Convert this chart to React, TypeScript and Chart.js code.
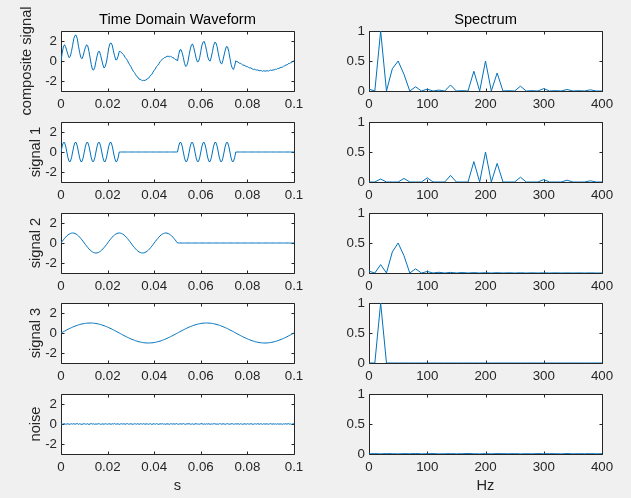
import React, { useEffect, useRef } from 'react';
import { Chart, registerables } from 'chart.js';

Chart.register(...registerables);

// ---------- sampled waveforms (2 kHz, 0 .. 0.1 s) ----------
const SAMPLE_RATE = 2000;

// 200 Hz bursts during 0-0.025 s and 0.05-0.075 s
const SIGNAL_1 = [
  0, .59, .95, .95, .59, 0, -.59, -.95, -.95, -.59,
  0, .59, .95, .95, .59, 0, -.59, -.95, -.95, -.59,
  0, .59, .95, .95, .59, 0, -.59, -.95, -.95, -.59,
  0, .59, .95, .95, .59, 0, -.59, -.95, -.95, -.59,
  0, .59, .95, .95, .59, 0, -.59, -.95, -.95, -.59,
  0, 0, 0, 0, 0, 0, 0, 0, 0, 0,
  0, 0, 0, 0, 0, 0, 0, 0, 0, 0,
  0, 0, 0, 0, 0, 0, 0, 0, 0, 0,
  0, 0, 0, 0, 0, 0, 0, 0, 0, 0,
  0, 0, 0, 0, 0, 0, 0, 0, 0, 0,
  0, .59, .95, .95, .59, 0, -.59, -.95, -.95, -.59,
  0, .59, .95, .95, .59, 0, -.59, -.95, -.95, -.59,
  0, .59, .95, .95, .59, 0, -.59, -.95, -.95, -.59,
  0, .59, .95, .95, .59, 0, -.59, -.95, -.95, -.59,
  0, .59, .95, .95, .59, 0, -.59, -.95, -.95, -.59,
  0, 0, 0, 0, 0, 0, 0, 0, 0, 0,
  0, 0, 0, 0, 0, 0, 0, 0, 0, 0,
  0, 0, 0, 0, 0, 0, 0, 0, 0, 0,
  0, 0, 0, 0, 0, 0, 0, 0, 0, 0,
  0, 0, 0, 0, 0, 0, 0, 0, 0, 0,
  0,
];

// 50 Hz tone during the first 0.05 s
const SIGNAL_2 = [
  0, .16, .31, .45, .59, .71, .81, .89, .95, .99, 1,
  .99, .95, .89, .81, .71, .59, .45, .31, .16, 0,
  -.16, -.31, -.45, -.59, -.71, -.81, -.89, -.95, -.99, -1,
  -.99, -.95, -.89, -.81, -.71, -.59, -.45, -.31, -.16, 0,
  .16, .31, .45, .59, .71, .81, .89, .95, .99, 1,
  .99, .95, .89, .81, .71, .59, .45, .31, .16, 0,
  -.16, -.31, -.45, -.59, -.71, -.81, -.89, -.95, -.99, -1,
  -.99, -.95, -.89, -.81, -.71, -.59, -.45, -.31, -.16, 0,
  .16, .31, .45, .59, .71, .81, .89, .95, .99, 1,
  .99, .95, .89, .81, .71, .59, .45, .31, .16, 0,
  0, 0, 0, 0, 0, 0, 0, 0, 0, 0,
  0, 0, 0, 0, 0, 0, 0, 0, 0, 0,
  0, 0, 0, 0, 0, 0, 0, 0, 0, 0,
  0, 0, 0, 0, 0, 0, 0, 0, 0, 0,
  0, 0, 0, 0, 0, 0, 0, 0, 0, 0,
  0, 0, 0, 0, 0, 0, 0, 0, 0, 0,
  0, 0, 0, 0, 0, 0, 0, 0, 0, 0,
  0, 0, 0, 0, 0, 0, 0, 0, 0, 0,
  0, 0, 0, 0, 0, 0, 0, 0, 0, 0,
  0, 0, 0, 0, 0, 0, 0, 0, 0, 0,
];

// 20 Hz tone over the whole record
const SIGNAL_3 = [
  0, .06, .13, .19, .25, .31, .37, .43, .48, .54, .59, .64, .68, .73, .77, .81, .84, .88, .9, .93, .95, .97, .98, .99, 1, 1,
  1, .99, .98, .97, .95, .93, .9, .88, .84, .81, .77, .73, .68, .64, .59, .54, .48, .43, .37, .31, .25, .19, .13, .06, 0,
  -.06, -.13, -.19, -.25, -.31, -.37, -.43, -.48, -.54, -.59, -.64, -.68, -.73, -.77, -.81, -.84, -.88, -.9, -.93, -.95, -.97, -.98, -.99, -1, -1,
  -1, -.99, -.98, -.97, -.95, -.93, -.9, -.88, -.84, -.81, -.77, -.73, -.68, -.64, -.59, -.54, -.48, -.43, -.37, -.31, -.25, -.19, -.13, -.06, 0,
  .06, .13, .19, .25, .31, .37, .43, .48, .54, .59, .64, .68, .73, .77, .81, .84, .88, .9, .93, .95, .97, .98, .99, 1, 1,
  1, .99, .98, .97, .95, .93, .9, .88, .84, .81, .77, .73, .68, .64, .59, .54, .48, .43, .37, .31, .25, .19, .13, .06, 0,
  -.06, -.13, -.19, -.25, -.31, -.37, -.43, -.48, -.54, -.59, -.64, -.68, -.73, -.77, -.81, -.84, -.88, -.9, -.93, -.95, -.97, -.98, -.99, -1, -1,
  -1, -.99, -.98, -.97, -.95, -.93, -.9, -.88, -.84, -.81, -.77, -.73, -.68, -.64, -.59, -.54, -.48, -.43, -.37, -.31, -.25, -.19, -.13, -.06, 0,
];

// low-level measurement noise
const NOISE = [
  .02, -.03, .01, .04, -.02, -.01, .03, -.04, 0, .02,
  -.01, .03, -.02, .01, .05, -.03, .02, -.01, -.04, .01,
  .03, -.02, 0, .02, -.05, .01, .04, -.01, .02, -.03,
  .01, -.02, .03, .02, -.04, 0, .01, -.03, .04, -.01,
  -.02, .02, .01, -.03, .03, -.01, .05, -.02, 0, .02,
  -.04, .01, .02, -.01, .03, -.03, .01, .04, -.02, 0,
  .02, -.01, -.03, .03, .01, -.02, .04, -.04, .02, .01,
  -.01, .03, -.02, 0, .02, -.03, .01, .03, -.05, .02,
  .01, -.02, .04, -.01, -.03, .02, 0, .03, -.02, .01,
  -.03, .02, .01, -.04, .03, .01, -.01, .02, -.02, .04,
  0, -.03, .02, .01, -.02, .05, -.01, -.03, .02, .01,
  .03, -.02, -.01, .02, -.04, .01, .03, -.01, 0, -.02,
  .02, .04, -.03, .01, -.02, .02, -.01, .03, -.04, .01,
  -.01, .02, .03, -.02, 0, -.03, .04, .01, -.02, .02,
  .01, -.04, .02, .03, -.01, -.02, .01, .04, -.03, 0,
  .02, -.01, .03, -.03, .02, .01, -.04, .02, .01, -.02,
  .03, 0, -.02, .04, -.01, -.03, .02, .01, -.01, .03,
  -.02, .01, .02, -.04, .03, -.01, 0, .02, -.03, .01,
  .04, -.02, .01, -.01, .02, -.03, .03, -.02, .01, 0,
  -.03, .02, -.01, .03, -.02, .04, -.01, .01, -.04, .02,
  .01,
];

// the composite record is the sum of its parts
const COMPOSITE = SIGNAL_1.map((v, i) => v + SIGNAL_2[i] + SIGNAL_3[i] + NOISE[i]);

// ---------- magnitude spectra (10 Hz bins, 0 .. 400 Hz) ----------
const BIN_HZ = 10;

const SPEC_COMPOSITE = [
  .03, 0, 1, 0, .37, .5, .28, 0, .07, 0,
  .03, 0, .015, 0, .1, 0, .005, 0, .33, 0,
  .5, 0, .3, 0, .005, 0, .08, 0, .005, 0,
  .04, 0, .005, 0, .025, 0, .005, 0, .02, 0,
  0,
];

const SPEC_1 = [
  0, 0, .05, 0, 0, 0, .06, 0, 0, 0,
  .07, 0, 0, 0, .11, 0, 0, 0, .34, 0,
  .5, 0, .31, 0, 0, 0, .08, 0, 0, 0,
  .04, 0, 0, 0, .03, 0, 0, 0, .02, 0,
  0,
];

const SPEC_2 = [
  .03, 0, .14, 0, .35, .5, .29, 0, .07, 0,
  .025, 0, .012, 0, .01, 0, .008, 0, .006, 0,
  .005, 0, .005, 0, .004, 0, .004, 0, .003, 0,
  .003, 0, .003, 0, .002, 0, .002, 0, .002, 0,
  0,
];

const SPEC_3 = [
  0, 0, 1, 0, 0, 0, 0, 0, 0, 0,
  0, 0, 0, 0, 0, 0, 0, 0, 0, 0,
  0, 0, 0, 0, 0, 0, 0, 0, 0, 0,
  0, 0, 0, 0, 0, 0, 0, 0, 0, 0,
  0,
];

const SPEC_NOISE = [
  .004, .006, .003, .007, .005, .002, .006, .004, .008, .003,
  .005, .007, .002, .004, .006, .003, .005, .008, .004, .002,
  .006, .003, .007, .005, .004, .006, .002, .005, .003, .007,
  .004, .006, .005, .002, .008, .003, .005, .004, .006, .003,
  .005,
];

// ---------- axes ----------
const TIME_TICKS = [0, 0.02, 0.04, 0.06, 0.08, 0.1];
const AMP_TICKS = [-2, 0, 2];
const FREQ_TICKS = [0, 100, 200, 300, 400];
const MAG_TICKS = [0, 0.5, 1];

const ROW_LABELS = ['composite signal', 'signal 1', 'signal 2', 'signal 3', 'noise'];
const TIME_SERIES = [COMPOSITE, SIGNAL_1, SIGNAL_2, SIGNAL_3, NOISE];
const SPECTRA = [SPEC_COMPOSITE, SPEC_1, SPEC_2, SPEC_3, SPEC_NOISE];

// ---------- figure geometry ----------
const FIG_W = 631;
const FIG_H = 498;
const COLS = [
  { left: 61, right: 294 },
  { left: 369, right: 602 },
];
const ROW_TOPS = [31, 122, 213, 303, 394];
const ROW_H = 60;
const Y_AXIS_W = 40;
const X_AXIS_H = 24;
const YLABEL_X = [26, 35, 35, 35, 35];

const FONT = "'Liberation Sans', Arial, Helvetica, sans-serif";
const AXIS_COLOR = '#262626';
const LINE_COLOR = '#0072bd';
const TICK_LEN = 3;

// white plot box with inward ticks on all four sides
const boxPlugin = {
  id: 'boxAxes',
  beforeDraw(chart: any) {
    const { ctx, chartArea: a } = chart;
    ctx.save();
    ctx.fillStyle = '#ffffff';
    ctx.fillRect(a.left, a.top, a.right - a.left, a.bottom - a.top);
    ctx.restore();
  },
  beforeDatasetsDraw(chart: any) {
    const { ctx, chartArea: a, scales } = chart;
    const xs = scales.x;
    const ys = scales.y;
    const l = a.left + 0.5;
    const r = a.right + 0.5;
    const t = a.top + 0.5;
    const b = a.bottom + 0.5;
    ctx.save();
    ctx.strokeStyle = AXIS_COLOR;
    ctx.lineWidth = 1;
    ctx.beginPath();
    ctx.rect(l, t, r - l, b - t);
    xs.ticks.forEach((tk: any) => {
      const px = Math.round(xs.getPixelForValue(tk.value)) + 0.5;
      ctx.moveTo(px, b);
      ctx.lineTo(px, b - TICK_LEN);
      ctx.moveTo(px, t);
      ctx.lineTo(px, t + TICK_LEN);
    });
    ys.ticks.forEach((tk: any) => {
      const py = Math.round(ys.getPixelForValue(tk.value)) + 0.5;
      ctx.moveTo(l, py);
      ctx.lineTo(l + TICK_LEN, py);
      ctx.moveTo(r, py);
      ctx.lineTo(r - TICK_LEN, py);
    });
    ctx.stroke();
    ctx.restore();
  },
};

type PanelProps = {
  values: number[];
  step: number;
  xMax: number;
  xTicks: number[];
  yMin: number;
  yMax: number;
  yTicks: number[];
  col: number;
  row: number;
};

function Panel(props: PanelProps) {
  const ref = useRef<HTMLCanvasElement>(null);
  useEffect(() => {
    const canvas = ref.current;
    if (!canvas) return;
    const { left, right } = COLS[props.col];
    const top = ROW_TOPS[props.row];
    const tickFont = { family: FONT, size: 13.33 };
    const chart = new Chart(canvas, {
      type: 'line',
      data: {
        datasets: [
          {
            data: props.values.map((v, i) => ({ x: i * props.step, y: v })),
            borderColor: LINE_COLOR,
            borderWidth: 1,
            pointRadius: 0,
            tension: 0,
            fill: false,
          },
        ],
      },
      options: {
        animation: false,
        responsive: false,
        devicePixelRatio: 1,
        events: [],
        layout: {
          autoPadding: false,
          padding: {
            left: left - Y_AXIS_W,
            right: FIG_W - right,
            top,
            bottom: FIG_H - top - ROW_H - X_AXIS_H,
          },
        },
        plugins: {
          legend: { display: false },
          tooltip: { enabled: false },
          title: { display: false },
        },
        scales: {
          x: {
            type: 'linear',
            min: 0,
            max: props.xMax,
            grid: { display: false, drawTicks: false },
            border: { display: false },
            ticks: {
              padding: 5,
              color: AXIS_COLOR,
              font: tickFont,
              autoSkip: false,
              maxRotation: 0,
              callback: (v: any) => String(v),
            },
            afterBuildTicks: (s: any) => {
              s.ticks = props.xTicks.map((v) => ({ value: v }));
            },
            afterFit: (s: any) => {
              s.height = X_AXIS_H;
              s.paddingLeft = 0;
              s.paddingRight = 0;
            },
          },
          y: {
            type: 'linear',
            min: props.yMin,
            max: props.yMax,
            grid: { display: false, drawTicks: false },
            border: { display: false },
            ticks: {
              padding: 4,
              color: AXIS_COLOR,
              font: tickFont,
              autoSkip: false,
              callback: (v: any) => String(v),
            },
            afterBuildTicks: (s: any) => {
              s.ticks = props.yTicks.map((v) => ({ value: v }));
            },
            afterFit: (s: any) => {
              s.width = Y_AXIS_W;
              s.paddingTop = 0;
              s.paddingBottom = 0;
            },
          },
        },
      },
      plugins: [boxPlugin],
    } as any);
    return () => chart.destroy();
  }, []);
  return (
    <canvas
      ref={ref}
      width={FIG_W}
      height={FIG_H}
      style={{ position: 'absolute', left: 0, top: 0, width: FIG_W, height: FIG_H }}
    />
  );
}

const textBase: React.CSSProperties = {
  position: 'absolute',
  fontFamily: FONT,
  whiteSpace: 'nowrap',
  lineHeight: 1,
  transform: 'translate(-50%, -50%)',
};

export default function App() {
  useEffect(() => {
    document.body.style.margin = '0';
    document.body.style.overflow = 'hidden';
  }, []);

  const colCenter = (c: number) => (COLS[c].left + COLS[c].right) / 2;

  return (
    <div
      style={{
        position: 'absolute',
        left: 0,
        top: 0,
        width: FIG_W,
        height: FIG_H,
        background: '#f0f0f0',
        overflow: 'hidden',
      }}
    >
      {TIME_SERIES.map((series, r) => (
        <Panel
          key={'t' + r}
          values={series}
          step={1 / SAMPLE_RATE}
          xMax={0.1}
          xTicks={TIME_TICKS}
          yMin={-3}
          yMax={3}
          yTicks={AMP_TICKS}
          col={0}
          row={r}
        />
      ))}
      {SPECTRA.map((spec, r) => (
        <Panel
          key={'f' + r}
          values={spec}
          step={BIN_HZ}
          xMax={400}
          xTicks={FREQ_TICKS}
          yMin={0}
          yMax={1}
          yTicks={MAG_TICKS}
          col={1}
          row={r}
        />
      ))}

      <div style={{ ...textBase, left: colCenter(0), top: 19, fontSize: 14.67, color: '#000' }}>
        Time Domain Waveform
      </div>
      <div style={{ ...textBase, left: colCenter(1), top: 19, fontSize: 14.67, color: '#000' }}>
        Spectrum
      </div>

      {ROW_LABELS.map((label, r) => (
        <div
          key={label}
          style={{
            ...textBase,
            left: YLABEL_X[r],
            top: ROW_TOPS[r] + ROW_H / 2,
            fontSize: 14.67,
            color: AXIS_COLOR,
            transform: 'translate(-50%, -50%) rotate(-90deg)',
          }}
        >
          {label}
        </div>
      ))}

      <div style={{ ...textBase, left: colCenter(0), top: 485, fontSize: 14.67, color: AXIS_COLOR }}>
        s
      </div>
      <div style={{ ...textBase, left: colCenter(1), top: 485, fontSize: 14.67, color: AXIS_COLOR }}>
        Hz
      </div>
    </div>
  );
}
